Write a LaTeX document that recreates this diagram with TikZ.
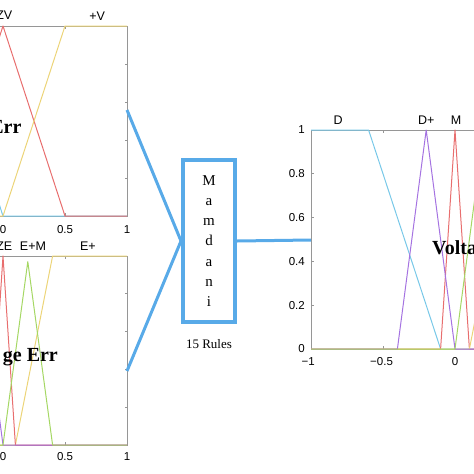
\documentclass[tikz,border=0pt]{standalone}
\usepackage{fontspec}
\setmainfont{Liberation Serif}
\newfontfamily\axfont{Liberation Sans}
\definecolor{linkblue}{RGB}{88,170,232}
\definecolor{mfblue}{RGB}{120,200,232}
\definecolor{mfred}{RGB}{232,110,110}
\definecolor{mfyellow}{RGB}{236,212,120}
\definecolor{mfpurple}{RGB}{165,115,225}
\definecolor{mfgreen}{RGB}{165,215,100}
\definecolor{axgray}{RGB}{150,150,150}
\begin{document}
\begin{tikzpicture}[x=1pt, y=-1pt,
    frame/.style={draw=axgray, line width=0.7pt},
    mf/.style={line width=1pt, line join=round},
    tick label/.style={font=\axfont\fontsize{11.5}{12}\selectfont, inner sep=0pt},
    mf label/.style={font=\axfont\fontsize{12.5}{13}\selectfont, inner sep=0pt},
    big label/.style={font=\bfseries\fontsize{20}{22}\selectfont, inner sep=0pt},
    link/.style={draw=linkblue, line width=3pt},
    rule box/.style={draw=linkblue, line width=4pt, minimum width=52pt, minimum height=162pt, inner sep=0pt, align=center, font=\fontsize{15}{20.2}\selectfont}]

    \useasboundingbox (0,0) rectangle (474,474);
    \clip (0,0) rectangle (474,474);

    % First input
    \begin{scope}[shift={(3,216)}, xscale=124, yscale=-190]
        \draw[frame] (-1,0) -- (1,0) -- (1,1) -- (-1,1);
        \foreach \m in {0.2,0.4,0.6,0.8}
            \draw[frame] (1,\m) -- (0.985,\m);
        \draw[frame] (0.5,1) -- (0.5,0.985);
        \draw[frame] (0.5,0) -- (0.5,0.015);

        \draw[mf, mfblue] (-1,1) -- (-0.5,1) -- (0,0) -- (1,0);
        \draw[mf, mfred] (-1,0) -- (-0.5,0) -- (0,1) -- (0.5,0) -- (1,0);
        \draw[mf, mfyellow] (-1,0) -- (0,0) -- (0.5,1) -- (1,1);

        \node[mf label] (zv) at (0.01,1.055) {ZV};
        \node[mf label] (pv) at (0.76,1.05) {+V};
        \node[tick label] (xa0) at (0,-0.07) {0};
        \node[tick label] (xa1) at (0.5,-0.07) {0.5};
        \node[tick label] (xa2) at (1,-0.07) {1};
        \node[big label, anchor=east] (erra) at (0.15,0.47) {Err};
    \end{scope}

    % Second input
    \begin{scope}[shift={(3,445)}, xscale=124, yscale=-189]
        \draw[frame] (-1,0) -- (1,0) -- (1,1) -- (-1,1);
        \foreach \m in {0.2,0.4,0.6,0.8}
            \draw[frame] (1,\m) -- (0.985,\m);
        \draw[frame] (0.5,1) -- (0.5,0.985);
        \draw[frame] (0.5,0) -- (0.5,0.015);

        \draw[mf, mfyellow] (-1,0) -- (0.1,0) -- (0.4,1) -- (1,1);
        \draw[mf, mfred] (-1,0) -- (-0.1,0) -- (0,1) -- (0.1,0) -- (1,0);
        \draw[mf, mfpurple] (-1,0) -- (-0.4,0) -- (-0.2,1) -- (0,0) -- (1,0);
        \draw[mf, mfgreen] (-1,0) -- (0,0) -- (0.2,0.97) -- (0.4,0) -- (1,0);

        \node[mf label] (ze) at (0.01,1.05) {ZE};
        \node[mf label] (epm) at (0.242,1.05) {E+M};
        \node[mf label] (ep) at (0.685,1.05) {E+};
        \node[tick label] (xb0) at (0,-0.063) {0};
        \node[tick label] (xb1) at (0.5,-0.063) {0.5};
        \node[tick label] (xb2) at (1,-0.063) {1};
        \node[big label, anchor=east] (errb) at (0.444,0.466) {ge Err};
    \end{scope}

    % Output
    \begin{scope}[shift={(455,349)}, xscale=144, yscale=-219]
        \draw[frame] (1,0) -- (-1,0) -- (-1,1) -- (1,1);
        \foreach \m in {0.2,0.4,0.6,0.8}
            \draw[frame] (-1,\m) -- (-0.98,\m);
        \draw[frame] (-0.5,1) -- (-0.5,0.985);
        \draw[frame] (-0.5,0) -- (-0.5,0.015);

        \draw[mf, mfblue] (-1,1) -- (-0.6,1) -- (-0.1,0) -- (1,0);
        \draw[mf, mfred] (-1,0) -- (-0.1,0) -- (0,1) -- (0.1,0) -- (1,0);
        \draw[mf, mfyellow] (-1,0) -- (0.1,0) -- (0.4,1) -- (1,1);
        \draw[mf, mfpurple] (-1,0) -- (-0.4,0) -- (-0.2,1) -- (0,0) -- (1,0);
        \draw[mf, mfgreen] (-1,0) -- (0,0) -- (0.2,1) -- (0.4,0) -- (1,0);

        \node[mf label] (d) at (-0.812,1.046) {D};
        \node[mf label] (dp) at (-0.2,1.046) {D+};
        \node[mf label] (mm) at (0.007,1.046) {M};
        \foreach \m in {0,0.2,0.4,0.6,0.8,1}
            \node[tick label, anchor=east] at (-1.042,\m) {\m};
        \node[tick label] (xc0) at (-1.02,-0.059) {−1};
        \node[tick label] (xc1) at (-0.51,-0.059) {−0.5};
        \node[tick label] (xc2) at (0,-0.059) {0};
        \node[big label, anchor=west] (volt) at (-0.16,0.461) {Volta};
    \end{scope}

    % Rule base
    \node[rule box] (mam) at (209,241) {M\\a\\m\\d\\a\\n\\i};
    \node[font=\fontsize{13}{14}\selectfont] (rules) at (209,344) {15 Rules};

    \coordinate (ina) at (127,110);
    \coordinate (inb) at (127,371);
    \coordinate (outv) at (311,240);

    \draw[link] (ina) -- (mam.west);
    \draw[link] (inb) -- (mam.west);
    \draw[link] (mam.east) -- (outv);

\end{tikzpicture}
\end{document}
